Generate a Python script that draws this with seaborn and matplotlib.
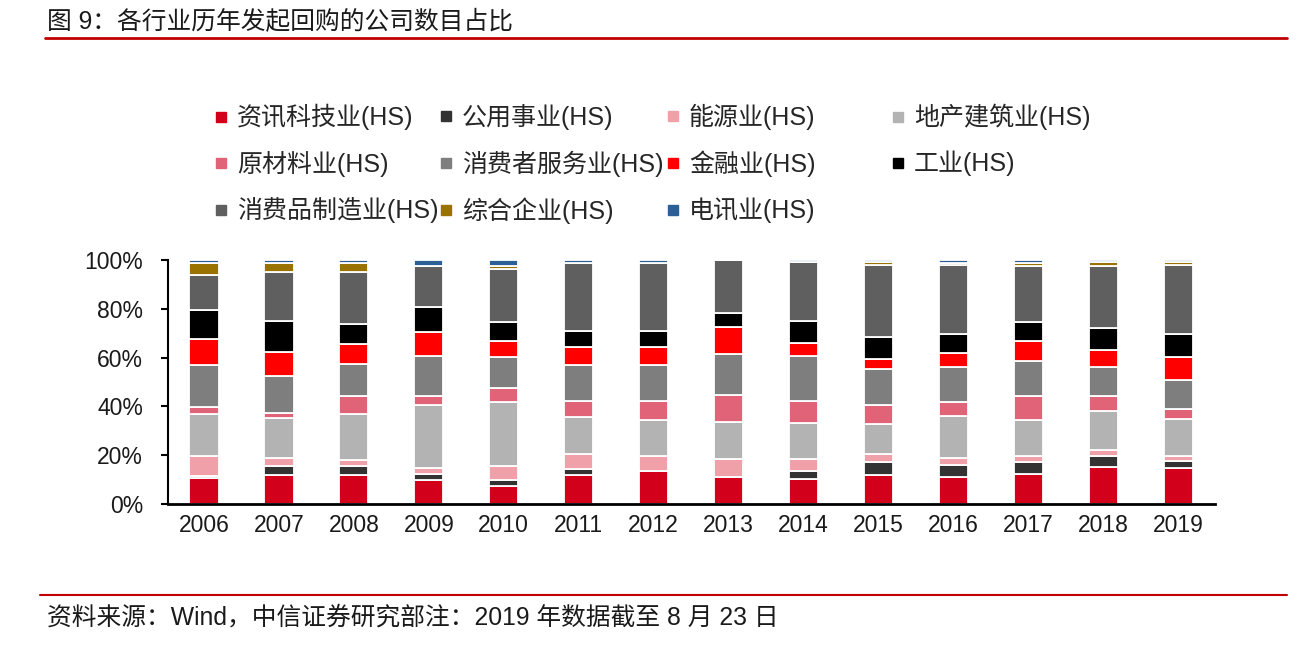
import numpy as np
import pandas as pd
import matplotlib
matplotlib.use("Agg")
import matplotlib.pyplot as plt
from matplotlib.lines import Line2D
import seaborn as sns

# 年份
years = ["2006", "2007", "2008", "2009", "2010", "2011", "2012",
         "2013", "2014", "2015", "2016", "2017", "2018", "2019"]

# 各行业占比 (%)，从下往上堆叠
it_tech = [10.5, 11.7, 11.7, 9.9, 7.3, 11.7, 13.5, 11.1, 10.4, 11.7, 11.0, 12.3, 15.2, 14.8]
utilities = [1.0, 3.7, 3.7, 2.5, 2.7, 2.5, 0.0, 0.0, 3.0, 5.6, 4.9, 5.0, 4.5, 3.0]
energy = [8.3, 3.5, 2.6, 2.4, 5.4, 6.1, 6.2, 7.4, 5.0, 3.0, 3.1, 2.5, 2.4, 2.0]
property_cons = [17.0, 16.2, 18.8, 25.7, 26.2, 15.2, 14.7, 15.2, 14.7, 12.3, 17.1, 14.6, 16.0, 15.0]
materials = [3.1, 2.4, 7.4, 3.7, 5.8, 6.8, 7.9, 11.1, 9.3, 7.9, 5.5, 9.8, 6.1, 4.3]
consumer_svc = [17.2, 14.8, 13.3, 16.6, 12.8, 14.8, 14.8, 16.8, 18.4, 14.7, 14.7, 14.6, 12.1, 11.8]
financials = [10.5, 9.8, 8.1, 9.6, 6.6, 7.2, 7.2, 11.0, 5.3, 4.2, 5.6, 8.0, 6.8, 9.2]
industrials = [12.0, 13.1, 8.3, 10.3, 7.8, 6.6, 6.6, 5.5, 9.1, 9.0, 7.6, 7.8, 9.0, 9.4]
consumer_goods = [14.2, 19.7, 21.0, 16.7, 21.7, 27.9, 27.9, 21.9, 23.8, 29.5, 28.4, 22.8, 25.3, 28.4]
conglomerates = [5.0, 3.9, 3.9, 0.0, 1.1, 0.0, 0.0, 0.0, 0.0, 1.1, 0.9, 1.4, 1.9, 1.4]
telecom = [1.2, 1.2, 1.2, 2.6, 2.6, 1.2, 1.2, 0.0, 1.0, 1.0, 1.2, 1.2, 0.7, 0.7]

series_names = ["资讯科技业(HS)", "公用事业(HS)", "能源业(HS)", "地产建筑业(HS)",
                "原材料业(HS)", "消费者服务业(HS)", "金融业(HS)", "工业(HS)",
                "消费品制造业(HS)", "综合企业(HS)", "电讯业(HS)"]
series_values = [it_tech, utilities, energy, property_cons, materials, consumer_svc,
                 financials, industrials, consumer_goods, conglomerates, telecom]
colors = ["#D2001A", "#333333", "#EFA0A9", "#B3B3B3", "#E06377", "#7E7E7E",
          "#FF0000", "#000000", "#5F5F5F", "#9A7200", "#2C5F96"]

sns.set_theme(style="white")
plt.rcParams['font.family'] = ['Liberation Sans', 'Noto Sans CJK SC']
plt.rcParams['axes.unicode_minus'] = False

fig = plt.figure(figsize=(12.98, 6.45), dpi=100)
ax = fig.add_axes([168 / 1298, 1 - 504 / 645, (1215 - 168) / 1298, (504 - 260) / 645])

bottom = np.zeros(len(years))
for name, vals, c in zip(series_names, series_values, colors):
    df = pd.DataFrame({"year": years, "value": vals})
    sns.barplot(data=df, x="year", y="value", color=c, width=0.39,
                bottom=bottom, edgecolor="white", linewidth=1.3,
                saturation=1, ax=ax)
    bottom = bottom + np.array(vals)

ax.set_xlim(-0.48, 13.49)
ax.set_ylim(0, 100)
ax.set_yticks([0, 20, 40, 60, 80, 100])
ax.set_yticklabels([f"{v}%" for v in [0, 20, 40, 60, 80, 100]])
ax.set_xlabel("")
ax.set_ylabel("")
ax.tick_params(axis="y", direction="out", length=5, width=1.5, color="black",
               labelsize=16.5, pad=13, left=True)
ax.tick_params(axis="x", length=0, labelsize=16.5, pad=7)
for lab in ax.get_xticklabels() + ax.get_yticklabels():
    lab.set_color("#1a1a1a")
sns.despine(ax=ax, top=True, right=True)
ax.spines["left"].set_color("black")
ax.spines["left"].set_linewidth(1.5)
ax.spines["bottom"].set_color("black")
ax.spines["bottom"].set_linewidth(2)
ax.grid(False)

# 图例：按行排列，每列单独放置
col_x = [213, 438, 665, 890]
layout = [[0, 4, 8], [1, 5, 9], [2, 6, 10], [3, 7]]
for cx, idxs in zip(col_x, layout):
    handles = [Line2D([0], [0], marker="s", linestyle="", markersize=6.5,
                      markerfacecolor=colors[i], markeredgecolor=colors[i]) for i in idxs]
    labels = [series_names[i] for i in idxs]
    fig.legend(handles, labels, loc="upper left",
               bbox_to_anchor=(cx / 1298, 1 - 104 / 645), frameon=False,
               fontsize=18, handlelength=0.6, handletextpad=0.35,
               labelspacing=0.82, borderaxespad=0, borderpad=0)

# 标题与脚注
fig.text(47 / 1298, 1 - 22 / 645, "图 9：各行业历年发起回购的公司数目占比",
         fontsize=17.8, va="center", ha="left", color="#1a1a1a")
fig.add_artist(Line2D([45 / 1298, 1287 / 1298], [1 - 38 / 645, 1 - 38 / 645],
                      color="#C00000", linewidth=2))
fig.add_artist(Line2D([40 / 1298, 1287 / 1298], [1 - 595 / 645, 1 - 595 / 645],
                      color="#C00000", linewidth=1.5))
fig.text(47 / 1298, 1 - 618 / 645, "资料来源：Wind，中信证券研究部注：2019 年数据截至 8 月 23 日",
         fontsize=17.8, va="center", ha="left", color="#1a1a1a")

fig.savefig("out.png", dpi=100)
